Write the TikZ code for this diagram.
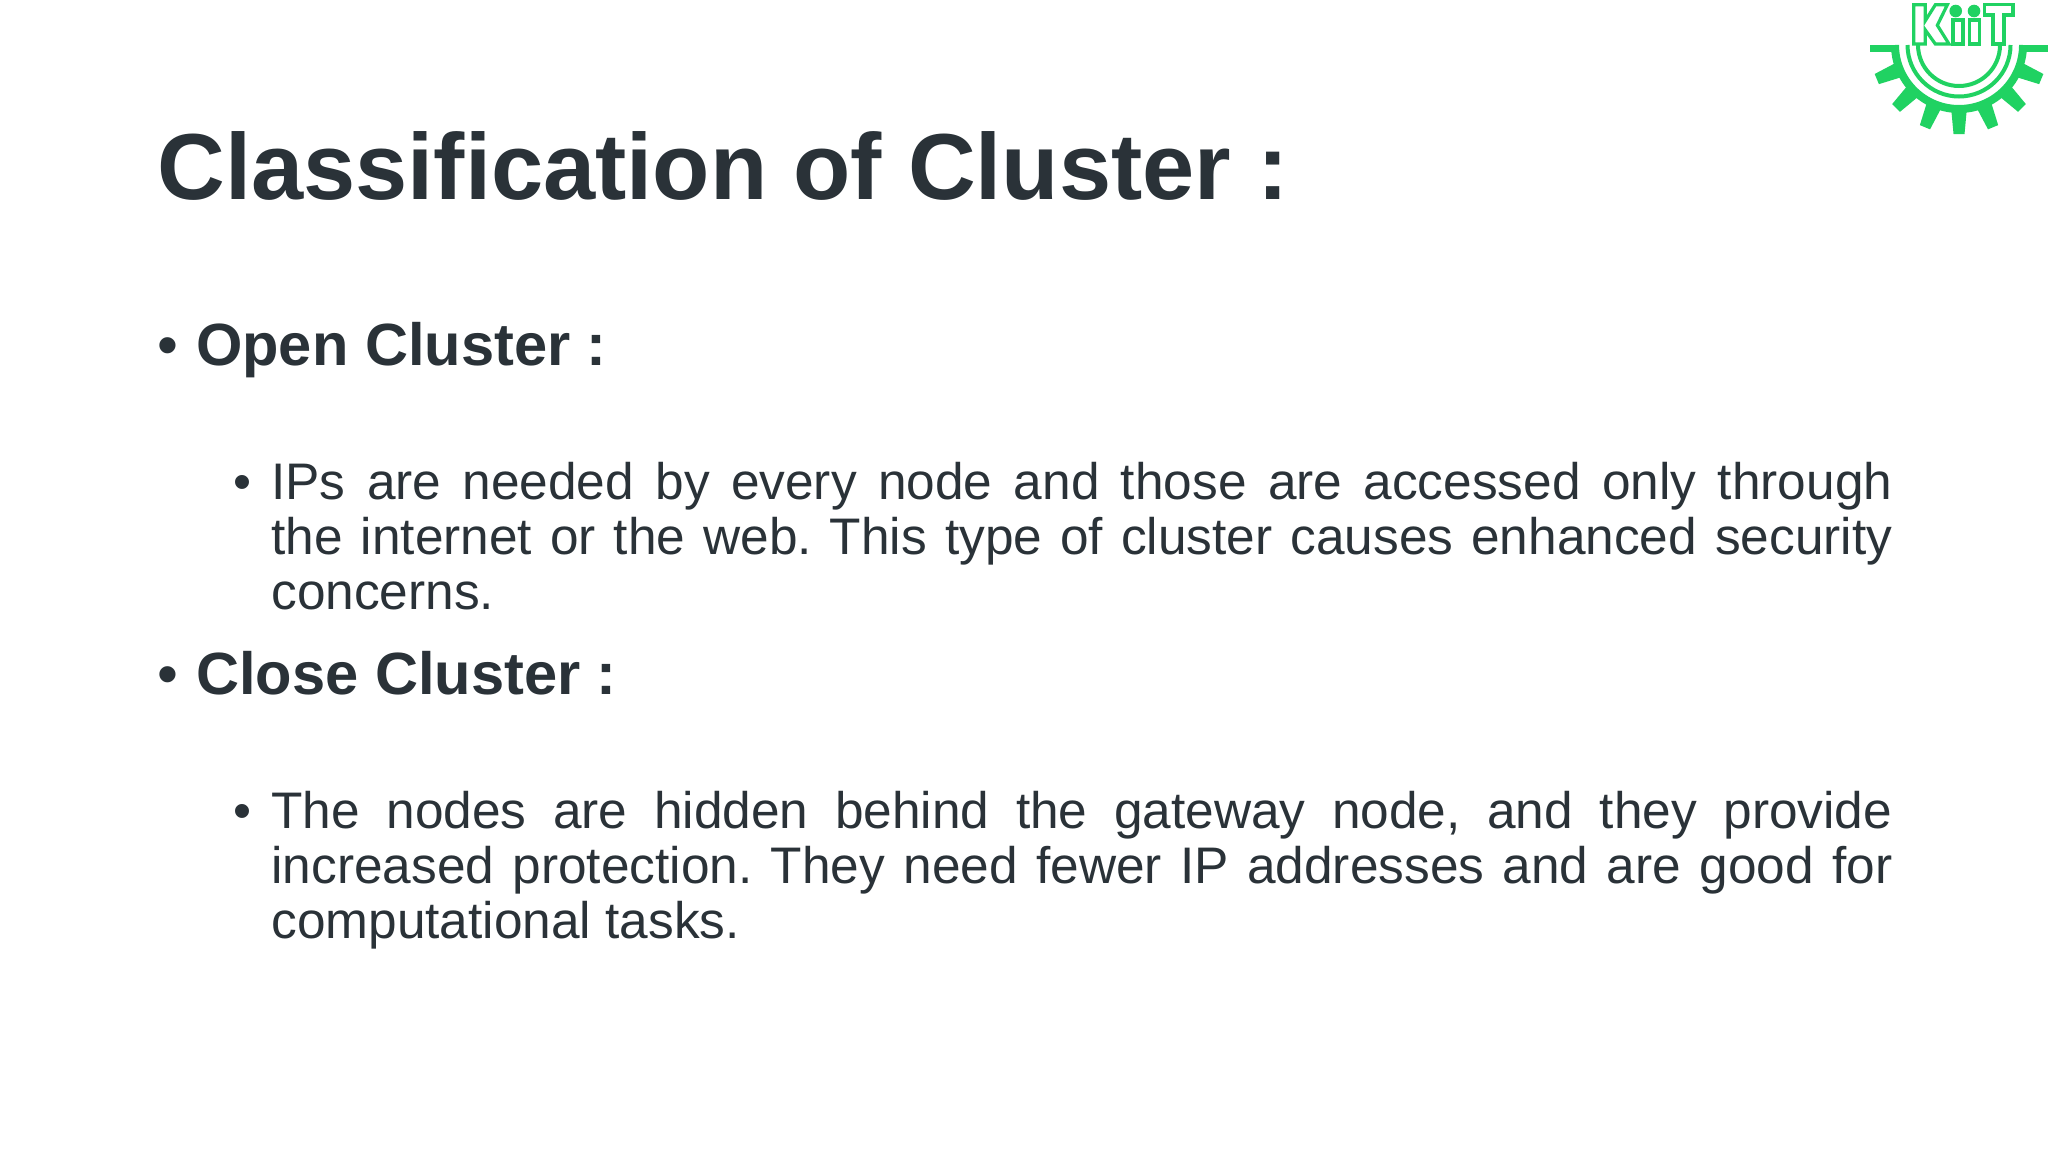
\documentclass[tikz,border=0pt]{standalone}
\usepackage{fontspec}
\setmainfont{Liberation Sans}
\frenchspacing
\definecolor{slateink}{HTML}{2A3238}
\definecolor{kiitgreen}{HTML}{20D262}
\tikzset{
  x=0.5pt,y=0.5pt,
  titletext/.style={anchor=base west,inner sep=0pt,text=slateink,font=\fontsize{46.9pt}{56pt}\selectfont\bfseries},
  headtext/.style={anchor=base west,inner sep=0pt,text=slateink,font=\fontsize{29.8pt}{35pt}\selectfont\bfseries},
  headbullet/.style={anchor=base west,inner sep=0pt,text=slateink,font=\fontsize{29.8pt}{35pt}\selectfont},
  bodytext/.style={anchor=base west,inner sep=0pt,text=slateink,font=\fontsize{25.7pt}{27.5pt}\selectfont},
  logoline/.style={draw=kiitgreen,line width=1.6pt,line join=miter,fill=white},
}
\newcommand{\bodypar}[1]{\parbox[t]{810.5pt}{\fontsize{25.7pt}{27.55pt}\selectfont\hyphenpenalty=10000 #1}}
\begin{document}
\begin{tikzpicture}
\useasboundingbox (0,0) rectangle (2048,-1152);
\fill[white] (0,0) rectangle (2048,-1152);
\node[titletext] (title) at (157.2,-199) {Classification of Cluster :};
\node[headbullet] (b1) at (157.5,-365) {•};
\node[headtext] (open) at (195.8,-365) {Open Cluster :};
\node[bodytext] (b2) at (233.5,-499.3) {•};
\node[bodytext] (opentext) at (271,-499.3) {\bodypar{IPs are needed by every node and those are accessed only through\linebreak the internet or the web. This type of cluster causes enhanced security\linebreak concerns.}};
\node[headbullet] (b3) at (157.5,-694) {•};
\node[headtext] (close) at (195.8,-694) {Close Cluster :};
\node[bodytext] (b4) at (233.5,-828.3) {•};
\node[bodytext] (closetext) at (271,-828.3) {\bodypar{The nodes are hidden behind the gateway node, and they provide\linebreak increased protection. They need fewer IP addresses and are good for\linebreak computational tasks.}};
% logo
\begin{scope}[shift={(1959,-45)}]
  \fill[kiitgreen] (-89,0) rectangle (-60,-7);
  \fill[kiitgreen] (89,0) rectangle (60,-7);
  \foreach \a in {202.5,225,247.5,270,292.5,315,337.5}
    \fill[kiitgreen,rotate=\a] (62,-8) -- (89,-5.5) -- (89,5.5) -- (62,8) -- cycle;
  \draw[kiitgreen,line width=4pt] (-64,0) arc[start angle=180,end angle=360,radius=64];
  \draw[kiitgreen,line width=2pt] (-51.5,0) arc[start angle=180,end angle=360,radius=51.5];
  \draw[kiitgreen,line width=2pt] (-41,0) arc[start angle=180,end angle=360,radius=41];
\end{scope}
\draw[logoline] (1913.7,-4.8) -- (1925.3,-4.8) -- (1925.3,-20.7) -- (1935.3,-4.8) -- (1947.3,-4.8) -- (1937.3,-25.3) -- (1949,-44) -- (1935.3,-44) -- (1925.3,-30) -- (1925.3,-44) -- (1913.7,-44) -- cycle;
\draw[logoline] (1953,-20) rectangle (1963,-44);
\draw[logoline] (1969.5,-20) rectangle (1979.5,-44);
\fill[kiitgreen] (1955.7,-11) circle[radius=6.3];
\fill[kiitgreen] (1974,-11) circle[radius=6.3];
\draw[logoline] (1984.5,-4.8) -- (2013,-4.8) -- (2013,-15) -- (2004,-15) -- (2004,-44) -- (1993,-44) -- (1993,-15) -- (1984.5,-15) -- cycle;
\end{tikzpicture}
\end{document}
